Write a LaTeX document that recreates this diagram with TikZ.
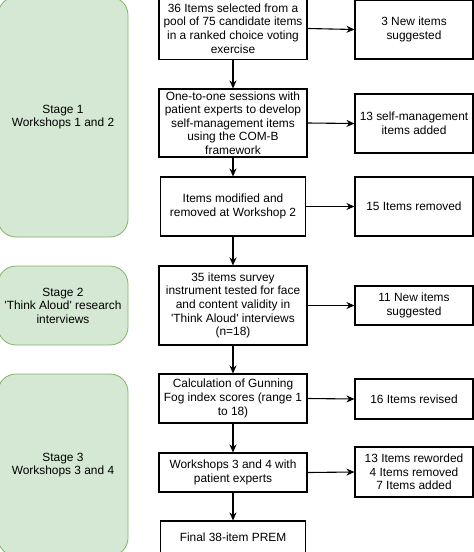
\documentclass[tikz,border=0pt]{standalone}
\usepackage{fontspec}
\setmainfont{Liberation Sans}
\usetikzlibrary{arrows.meta}
\definecolor{stagefill}{HTML}{D5E8D4}
\definecolor{stageline}{HTML}{82B366}
\newcommand{\sq}{\textquotesingle}

\begin{document}
\begin{tikzpicture}[x=1pt,y=-1pt,
  box/.style={draw, line width=1.1pt, minimum width=148pt, align=center, inner sep=1pt,
    font=\fontsize{11.9}{13.6}\selectfont},
  side/.style={box, minimum width=118pt},
  stage/.style={draw=stageline, fill=stagefill, rounded corners=18pt, line width=0.8pt,
    minimum width=130pt, align=center, font=\fontsize{11.9}{13.6}\selectfont},
  flow/.style={-{Stealth[length=8pt,width=7pt]}, line width=1.1pt}]
\useasboundingbox (0,0) rectangle (474,552);

% stages
\node[stage, minimum height=240pt] (s1) at (63,117) {Stage 1\\Workshops 1 and 2};
\node[stage, minimum height=79pt] (s2) at (63,305.5) {Stage 2\\\sq Think Aloud\sq{} research\\interviews};
\node[stage, minimum height=182pt] (s3) at (63,465) {Stage 3\\Workshops 3 and 4};

% main steps
\node[box, minimum height=62pt] (b1) at (233,28.5) {36 Items selected from a\\pool of 75 candidate items\\in a ranked choice voting\\exercise};
\node[box, minimum height=68pt] (b2) at (233,123) {One-to-one sessions with\\patient experts to develop\\self-management items\\using the COM-B\\framework};
\node[box, minimum width=145pt, minimum height=59pt] (b3) at (233,206.5) {Items modified and\\removed at Workshop 2};
\node[box, minimum height=79pt] (b4) at (233,305.5) {35 items survey\\instrument tested for face\\and content validity in\\\sq Think Aloud\sq{} interviews\\(n=18)};
\node[box, minimum height=49pt] (b5) at (233,398.5) {Calculation of Gunning\\Fog index scores (range 1\\to 18)};
\node[box, minimum height=39pt] (b6) at (233,472.5) {Workshops 3 and 4 with\\patient experts};
\node[box, minimum width=145pt, minimum height=32pt] (b7) at (233,537) {Final 38-item PREM};

% outcomes
\node[side, minimum height=59pt] (r1) at (414,29.5) {3 New items\\suggested};
\node[side, minimum height=59pt] (r2) at (414,123.5) {13 self-management\\items added};
\node[side, minimum height=59pt] (r3) at (414,206.5) {15 Items removed};
\node[side, minimum height=39pt] (r4) at (414,305.5) {11 New items\\suggested};
\node[side, minimum height=40pt] (r5) at (414,399) {16 Items revised};
\node[side, minimum height=50pt] (r6) at (414,472) {13 Items reworded\\4 Items removed\\7 Items added};

\foreach \a/\b in {b1/b2,b2/b3,b3/b4,b4/b5,b5/b6,b6/b7}
  \draw[flow] (\a.south) -- (\b.north);
\foreach \n in {1,...,6}
  \draw[flow] (b\n.east) -- (r\n.west);
\end{tikzpicture}
\end{document}
